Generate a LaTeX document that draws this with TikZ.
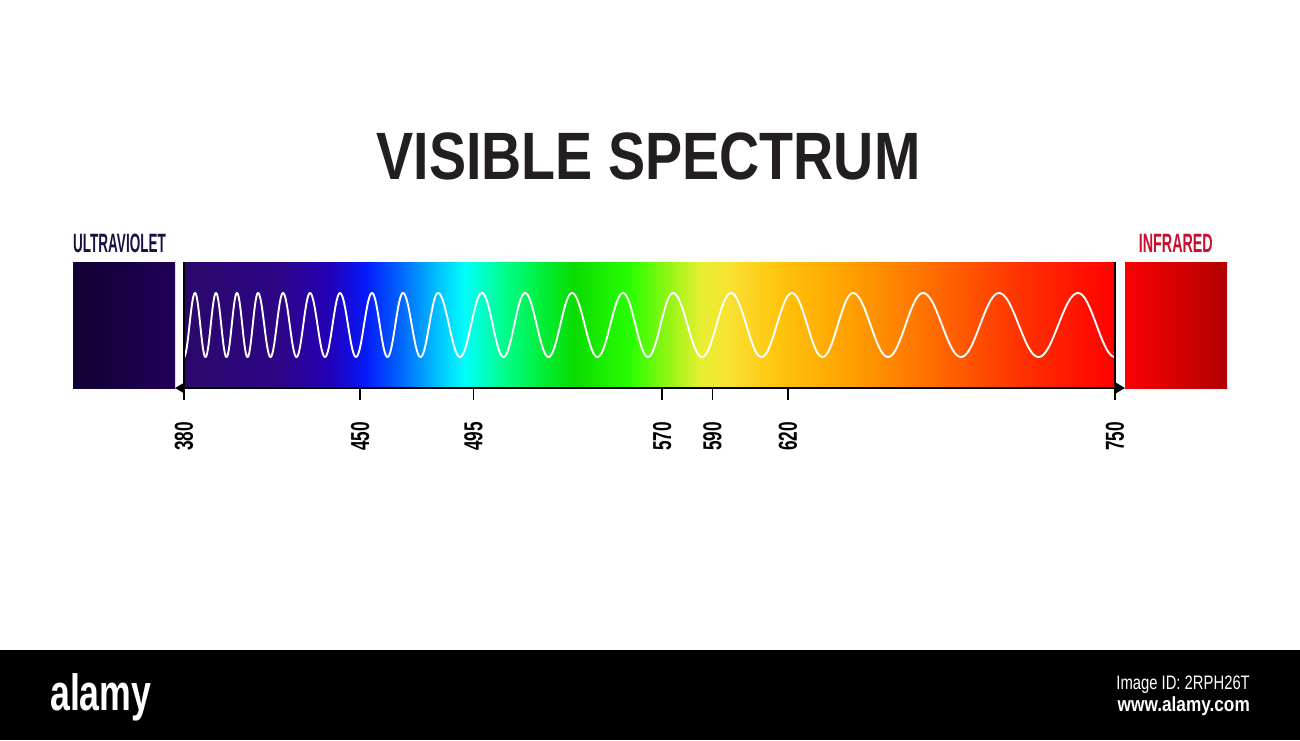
\documentclass[tikz,border=0pt]{standalone}
\usepackage{fontspec}
\setmainfont{Liberation Sans}
\usetikzlibrary{arrows.meta}
\definecolor{titlec}{HTML}{231F20}
\definecolor{uvtext}{HTML}{1C1042}
\definecolor{irtext}{HTML}{C8102E}
\definecolor{uvL}{RGB}{18,0,50}
\definecolor{uvR}{RGB}{32,0,88}
\definecolor{irL}{RGB}{250,0,0}
\definecolor{irR}{RGB}{176,0,0}
\definecolor{s0}{RGB}{42,8,105}
\definecolor{s1}{RGB}{45,5,135}
\definecolor{s2}{RGB}{35,0,185}
\definecolor{s3}{RGB}{5,25,250}
\definecolor{s4}{RGB}{0,100,255}
\definecolor{s5}{RGB}{0,200,255}
\definecolor{s6}{RGB}{0,255,250}
\definecolor{s7}{RGB}{0,255,150}
\definecolor{s8}{RGB}{0,240,60}
\definecolor{s9}{RGB}{10,220,0}
\definecolor{s10}{RGB}{40,255,0}
\definecolor{s11}{RGB}{150,245,20}
\definecolor{s12}{RGB}{230,240,50}
\definecolor{s13}{RGB}{250,225,50}
\definecolor{s14}{RGB}{255,195,10}
\definecolor{s15}{RGB}{255,160,0}
\definecolor{s16}{RGB}{255,110,0}
\definecolor{s17}{RGB}{255,50,0}
\definecolor{s18}{RGB}{255,0,0}
\tikzset{
  ticklabel/.style={rotate=90, anchor=center, inner sep=0pt, font=\fontsize{26}{26}\selectfont\bfseries, text=black},
  axisline/.style={line width=2pt, black},
  tickline/.style={line width=1.6pt, black},
  wave/.style={white, line width=1.9pt, line join=round},
  sidelabel/.style={anchor=base west, inner sep=0pt, font=\fontsize{26.5}{26.5}\selectfont\bfseries},
}
\begin{document}
\begin{tikzpicture}[x=1pt,y=-1pt]
\useasboundingbox (0,0) rectangle (1300,740);
\fill[white] (0,0) rectangle (1300,740);

% title
\node[anchor=base, inner sep=0pt, text=titlec] (title) at (648.5,179)
  {\scalebox{0.83}[1]{\fontsize{67}{67}\selectfont\bfseries VISIBLE SPECTRUM}};

% side labels
\node[sidelabel, text=uvtext] (uvlab) at (73,252) {\scalebox{0.51}[1]{ULTRAVIOLET}};
\node[sidelabel, anchor=base east, text=irtext] (irlab) at (1213,252) {\scalebox{0.54}[1]{INFRARED}};

% UV and IR boxes
\fill[left color=uvL, right color=uvR] (73,262) rectangle (175,388);
\fill[left color=irL, right color=irR] (1125,262) rectangle (1227,388);

% spectrum gradient
\foreach \xa/\ca/\xb/\cb in {184/s0/280/s1, 280/s1/330/s2, 330/s2/365/s3, 365/s3/400/s4,
  400/s4/440/s5, 440/s5/465/s6, 465/s6/500/s7, 500/s7/540/s8, 540/s8/575/s9,
  575/s9/630/s10, 630/s10/670/s11, 670/s11/700/s12, 700/s12/730/s13, 730/s13/780/s14,
  780/s14/850/s15, 850/s15/930/s16, 930/s16/1020/s17, 1020/s17/1115/s18}
  \fill[left color=\ca, right color=\cb] ({\xa-0.4},262) rectangle ({\xb+0.4},388);

% wave: half cycles between successive troughs and crests
\draw[wave] (184,357)
  foreach \a/\b/\s in {184/195/1, 195/205.5/-1, 205.5/216/1, 216/226.5/-1, 226.5/237/1,
    237/247.5/-1, 247.5/258/1, 258/270.5/-1, 270.5/283/1, 283/296.5/-1, 296.5/310/1,
    310/325/-1, 325/340/1, 340/356/-1, 356/372/1, 372/387.5/-1, 387.5/403/1,
    403/420.5/-1, 420.5/438/1, 438/460/-1, 460/482/1, 482/503.5/-1, 503.5/525/1,
    525/548.5/-1, 548.5/572/1, 572/597.5/-1, 597.5/623/1, 623/648/-1, 648/673/1,
    673/702/-1, 702/731/1, 731/761.5/-1, 761.5/792/1, 792/822.5/-1, 822.5/853/1,
    853/888/-1, 888/923/1, 923/961/-1, 961/999/1, 999/1038.5/-1, 1038.5/1078/1,
    1078/1115/-1}
  { -- plot[domain=0:180, samples=25] ({\a+(\b-\a)*\x/180},{325+\s*32*cos(\x)}) };

% axis
\coordinate (axL) at (175,388);
\coordinate (axR) at (1125,388);
\draw[axisline, {Triangle[length=9pt,width=10pt]}-{Triangle[length=9pt,width=10pt]}] (axL) -- (axR);
\coordinate (e380t) at (184,262);
\coordinate (e380b) at (184,400);
\coordinate (e750t) at (1115,262);
\coordinate (e750b) at (1115,400);
\draw[tickline] (e380t) -- (e380b);
\draw[tickline] (e750t) -- (e750b);

\foreach \v in {450,495,570,590,620} {
  \coordinate (t\v a) at ({184+(\v-380)*2.5162},388);
  \coordinate (t\v b) at ({184+(\v-380)*2.5162},400);
  \draw[tickline] (t\v a) -- (t\v b);
}
\foreach \v in {380,450,495,570,590,620,750} {
  \node[ticklabel] (l\v) at ({184+(\v-380)*2.5162},436.5) {\scalebox{0.66}[1]{\v}};
}

% bottom bar
\fill[black] (0,650) rectangle (1300,740);
\node[anchor=base west, inner sep=0pt, text=white] (logo) at (50,710)
  {\scalebox{0.70}[1]{\fontsize{51}{51}\selectfont\bfseries alamy}};
\node[anchor=base east, inner sep=0pt, text=white] (imgid) at (1250,689)
  {\scalebox{0.76}[1]{\fontsize{19.5}{19.5}\selectfont Image ID: 2RPH26T}};
\node[anchor=base east, inner sep=0pt, text=white] (www) at (1250,711)
  {\scalebox{0.84}[1]{\fontsize{20.5}{20.5}\selectfont\bfseries www.alamy.com}};
\end{tikzpicture}
\end{document}
